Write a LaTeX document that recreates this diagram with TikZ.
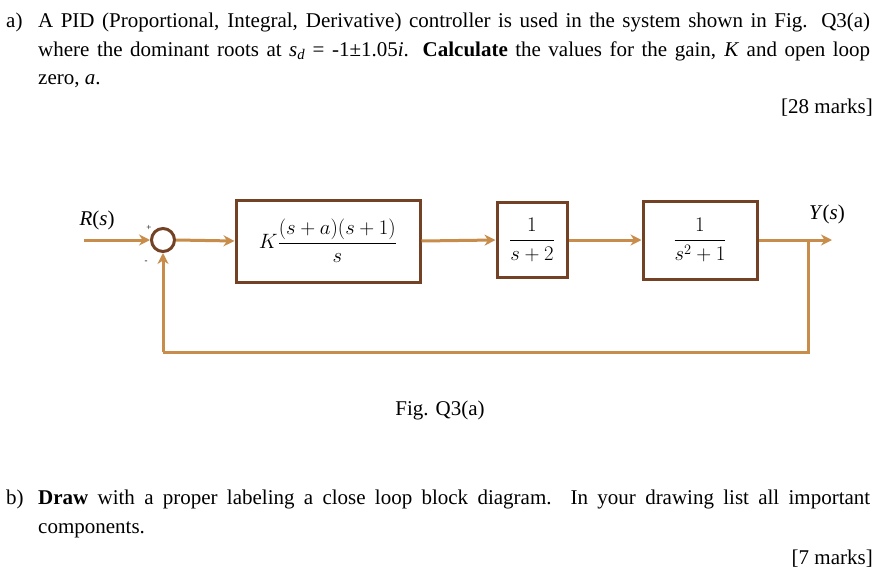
\documentclass[tikz,border=0pt]{standalone}
\usepackage{fontspec}
\setmainfont{Liberation Serif}
\usepackage{amsmath}
\usetikzlibrary{arrows.meta}
\definecolor{wire}{RGB}{200,140,75}
\definecolor{boxc}{RGB}{115,65,35}
\tikzset{
  blk/.style={draw=boxc,line width=3pt,minimum width=#1,inner sep=0pt},
  sig/.style={draw=wire,line width=3pt,-{Stealth[length=11pt,width=11pt]}},
  wireline/.style={draw=wire,line width=3pt},
  txt/.style={font=\fontsize{21}{28}\selectfont,inner sep=0pt},
}
\newcommand{\fullline}[1]{\makebox[832pt][s]{#1}}
\begin{document}
\begin{tikzpicture}[x=1pt,y=-1pt]
\useasboundingbox (0,0) rectangle (879,573);
\fill[white] (0,0) rectangle (879,573);
% question text
\node[txt,anchor=base west] (qa) at (6,27) {a)};
\node[txt,anchor=base west] (q1) at (38,27) {\fullline{A PID (Proportional, Integral, Derivative) controller is used in the system shown in Fig. Q3(a)}};
\node[txt,anchor=base west] (q2) at (38,56) {\fullline{where the dominant roots at \textit{s\textsubscript{d}} = -1±1.05\textit{i}. \textbf{Calculate} the values for the gain, \textit{K} and open loop}};
\node[txt,anchor=base west] (q3) at (38,84) {zero, \textit{a}.};
\node[txt,anchor=base east] (m28) at (873,113) {[28 marks]};
% diagram
\node[txt] (R) at (97,220) {\textit{R}(\textit{s})};
\coordinate (in) at (84,240);
\node[draw=boxc,circle,line width=3pt,minimum size=23pt,inner sep=0pt] (sum) at (163,240) {};
\node[font=\small] (plus) at (149,228) {+};
\node[font=\small] (minus) at (146,262) {-};
\node[blk=184pt,minimum height=82pt] (b1) at (328,241) {\fontsize{22}{24}\selectfont$K\dfrac{(s+a)(s+1)}{s}$};
\node[blk=70pt,minimum height=75pt] (b2) at (532,240) {\fontsize{21}{24}\selectfont$\dfrac{1}{s+2}$};
\node[blk=114pt,minimum height=78pt] (b3) at (700,240) {\fontsize{21}{24}\selectfont$\dfrac{1}{s^2+1}$};
\coordinate (out) at (832,240);
\coordinate (br) at (808,240);
\coordinate (bd) at (808,352);
\coordinate (bl) at (163,352);
\node[txt] (Y) at (827,214) {\textit{Y}(\textit{s})};
\draw[sig] (in) -- (sum.west);
\draw[sig] (sum.east) -- (b1.west);
\draw[sig] (b1.east) -- (b2.west);
\draw[sig] (b2.east) -- (b3.west);
\draw[sig] (b3.east) -- (out);
\draw[wireline] (br) -- (bd) -- (bl);
\draw[sig] (bl) -- (sum.south);
\node[txt] (fig) at (440,410) {Fig. Q3(a)};
% part b
\node[txt,anchor=base west] (qb) at (6,504) {b)};
\node[txt,anchor=base west] (b1t) at (38,504) {\fullline{\textbf{Draw} with a proper labeling a close loop block diagram. In your drawing list all important}};
\node[txt,anchor=base west] (b2t) at (38,533) {components.};
\node[txt,anchor=base east] (m7) at (873,564) {[7 marks]};
\end{tikzpicture}
\end{document}
